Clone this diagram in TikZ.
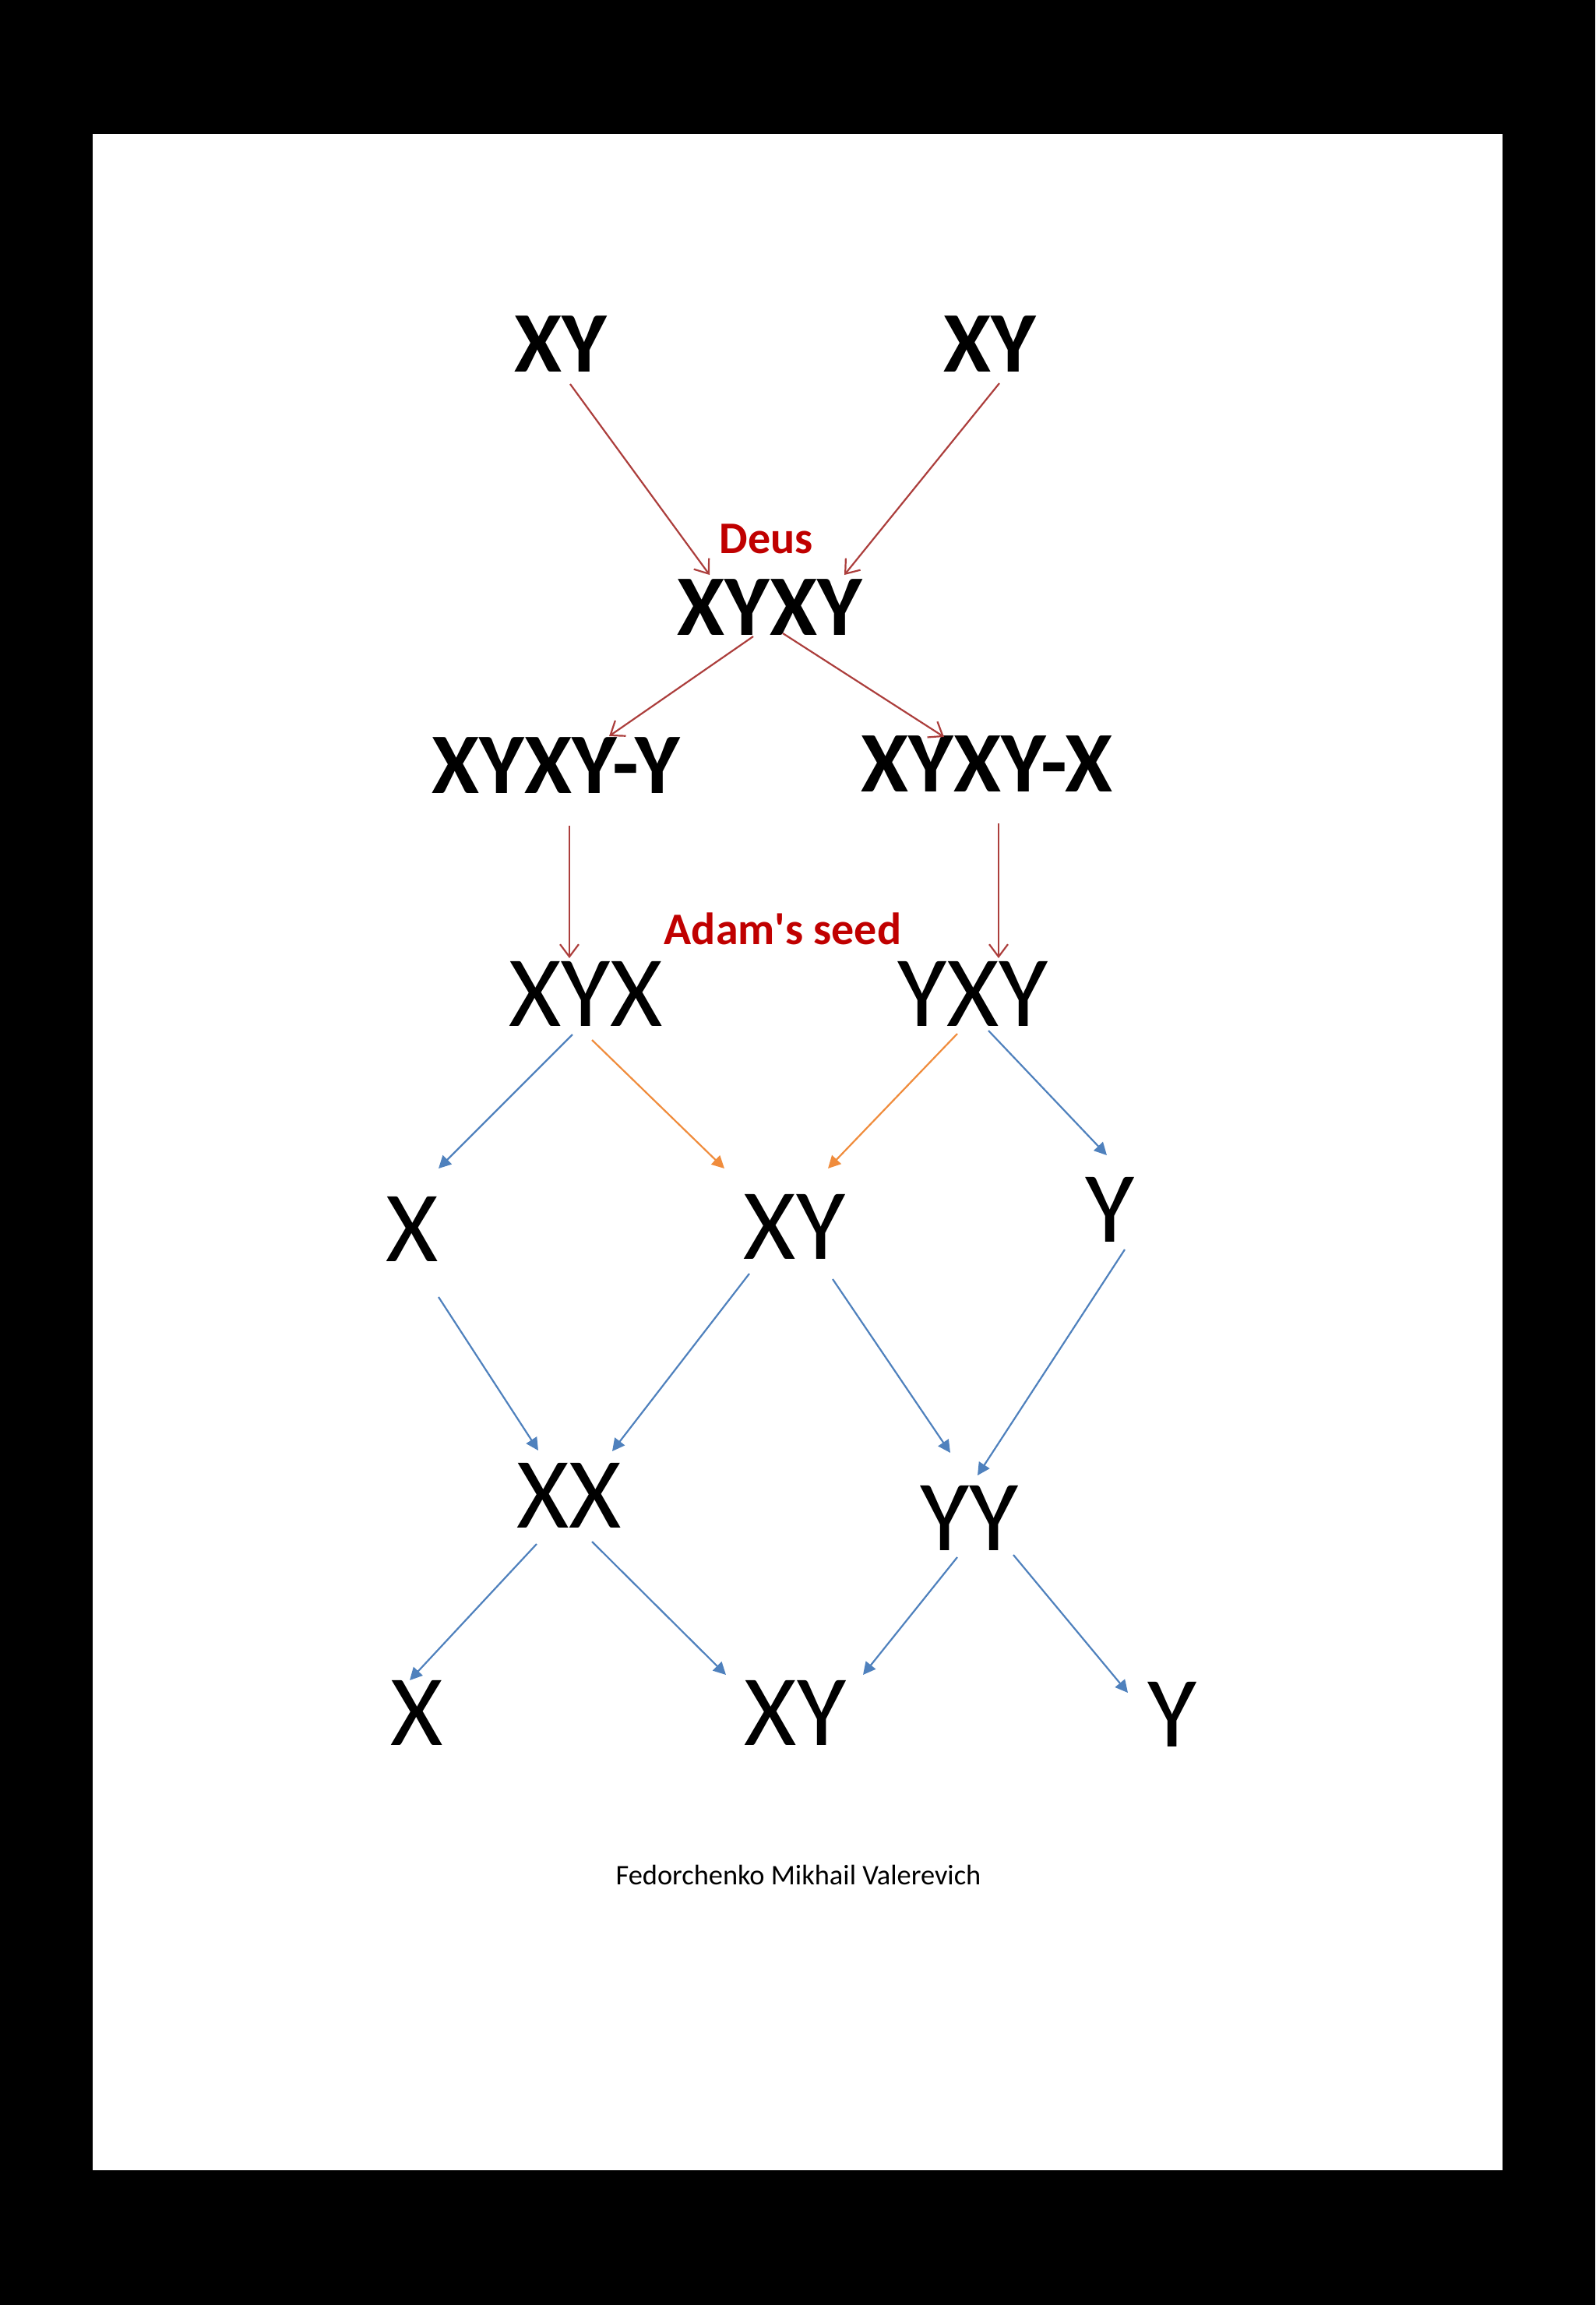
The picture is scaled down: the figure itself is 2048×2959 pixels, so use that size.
\documentclass[tikz,border=0pt]{standalone}
\usepackage{fontspec}
\setmainfont{Carlito}
\usetikzlibrary{arrows.meta}
\definecolor{deusred}{RGB}{192,0,0}
\definecolor{linkred}{RGB}{172,62,60}
\definecolor{linkblue}{RGB}{79,129,189}
\definecolor{linkorange}{RGB}{240,140,60}
\begin{document}
\begin{tikzpicture}[x=0.25pt,y=0.25pt,yscale=-1,xscale=1,
  every node/.style={inner sep=0pt,anchor=base},
  boldchr/.style={font=\bfseries\fontsize{27.7}{30}\selectfont},
  thinchr/.style={font=\fontsize{32.4}{36}\selectfont},
  redlabel/.style={font=\bfseries\fontsize{14.5}{16}\selectfont,text=deusred},
  redlink/.style={draw=linkred,line width=0.55pt,-{Straight Barb[length=4pt,width=6pt]}},
  bluelink/.style={draw=linkblue,line width=0.55pt,-{Triangle[length=4pt,width=4pt]}},
  orangelink/.style={draw=linkorange,line width=0.55pt,-{Triangle[length=4pt,width=4pt]}}]
\useasboundingbox (0,0) rectangle (2048,2959);
\fill[black] (0,0) rectangle (2048,2959);
\fill[white] (119,172) rectangle (1929,2786);
% chromosomes
\node[boldchr] (xyA) at (720,477) {XY};
\node[boldchr] (xyB) at (1271,477) {XY};
\node[redlabel] (deus) at (984,710) {Deus};
\node[boldchr] (xyxy) at (988,815) {XYXY};
\node[boldchr] (xyxyY) at (714,1018) {XYXY-Y};
\node[boldchr] (xyxyX) at (1267,1016) {XYXY-X};
\node[redlabel] (adam) at (1005,1212) {Adam\textquotesingle s seed};
\node[thinchr] (xyx) at (752,1317) {XYX};
\node[thinchr] (yxy) at (1249,1317) {YXY};
\node[thinchr] (xA) at (529,1619) {X};
\node[thinchr] (xyC) at (1020,1616) {XY};
\node[thinchr] (yA) at (1425,1594) {Y};
\node[thinchr] (xx) at (731,1961) {XX};
\node[thinchr] (yy) at (1245,1990) {YY};
\node[thinchr] (xB) at (535,2240) {X};
\node[thinchr] (xyD) at (1021,2240) {XY};
\node[thinchr] (yB) at (1505,2242) {Y};
\node[font=\fontsize{9.1}{10}\selectfont] (author) at (1025,2419) {Fedorchenko Mikhail Valerevich};
% red links
\draw[redlink] ([shift={(12,16)}]xyA.base) -- ([shift={(-77,-77)}]xyxy.base);
\draw[redlink] ([shift={(12,15)}]xyB.base) -- ([shift={(96,-77)}]xyxy.base);
\draw[redlink] ([shift={(-21,2)}]xyxy.base) -- ([shift={(68,-73)}]xyxyY.base);
\draw[redlink] ([shift={(17,-2)}]xyxy.base) -- ([shift={(-55,-70)}]xyxyX.base);
\draw[redlink] ([shift={(17,42)}]xyxyY.base) -- ([shift={(-21,-87)}]xyx.base);
\draw[redlink] ([shift={(15,41)}]xyxyX.base) -- ([shift={(33,-87)}]yxy.base);
% blue and orange links
\draw[bluelink] ([shift={(-17,11)}]xyx.base) -- ([shift={(34,-119)}]xA.base);
\draw[orangelink] ([shift={(8,18)}]xyx.base) -- ([shift={(-90,-116)}]xyC.base);
\draw[orangelink] ([shift={(-20,10)}]yxy.base) -- ([shift={(43,-116)}]xyC.base);
\draw[bluelink] ([shift={(20,6)}]yxy.base) -- ([shift={(-4,-111)}]yA.base);
\draw[bluelink] ([shift={(34,46)}]xA.base) -- ([shift={(-40,-99)}]xx.base);
\draw[bluelink] ([shift={(-58,19)}]xyC.base) -- ([shift={(55,-98)}]xx.base);
\draw[bluelink] ([shift={(49,26)}]xyC.base) -- ([shift={(-25,-125)}]yy.base);
\draw[bluelink] ([shift={(19,10)}]yA.base) -- ([shift={(10,-96)}]yy.base);
\draw[bluelink] ([shift={(-42,21)}]xx.base) -- ([shift={(-9,-83)}]xB.base);
\draw[bluelink] ([shift={(29,18)}]xx.base) -- ([shift={(-89,-90)}]xyD.base);
\draw[bluelink] ([shift={(-16,9)}]yy.base) -- ([shift={(87,-90)}]xyD.base);
\draw[bluelink] ([shift={(56,6)}]yy.base) -- ([shift={(-57,-69)}]yB.base);
\end{tikzpicture}
\end{document}
